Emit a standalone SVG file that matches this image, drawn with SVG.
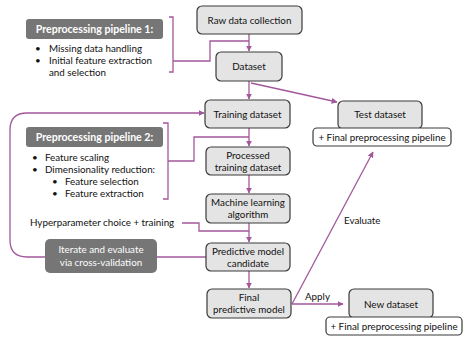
<svg xmlns="http://www.w3.org/2000/svg" width="474" height="338" viewBox="0 0 474 338">
<defs>
<marker id="ah" viewBox="0 0 10 10" refX="9" refY="5" markerWidth="6" markerHeight="6" orient="auto" markerUnits="userSpaceOnUse">
<path d="M0,0 L10,5 L0,10 z" fill="#a2579b"/>
</marker>
<style>
text{font-family:Lato,"Open Sans","Liberation Sans",sans-serif;font-size:9.8px;fill:#111}
.box{fill:#e4e4e4;stroke:#3a3a3a;stroke-width:1.2}
.wbox{fill:#fff;stroke:#3a3a3a;stroke-width:1.2}
.dark{fill:#767676;stroke:none}
.c{text-anchor:middle}
.w{fill:#fff}
.b{font-weight:bold}
.ln{fill:none;stroke:#a2579b;stroke-width:1.3}
.br{fill:none;stroke:#a2579b;stroke-width:1.3}
</style>
</defs>
<rect width="474" height="338" fill="#fff"/>
<g id="connectors">
<path class="ln" d="M249,34 V51" marker-end="url(#ah)"/>
<path class="br" d="M169,17 H173 V72 H169 M173,61 H210 V41 H249"/>
<path class="ln" d="M249,81 V99" marker-end="url(#ah)"/>
<path class="ln" d="M251,83 L337,102" marker-end="url(#ah)"/>
<path class="ln" d="M249,128 V146" marker-end="url(#ah)"/>
<path class="br" d="M163,123 H168 V199 H163 M168,161 H194 V137 H249"/>
<path class="ln" d="M249,175 V193" marker-end="url(#ah)"/>
<path class="ln" d="M182,223 H199 V231 H249"/>
<path class="ln" d="M249,223 V242" marker-end="url(#ah)"/>
<path class="ln" d="M157,257 H206"/>
<path class="ln" d="M45,257 H27 Q10,257 10,240 V130 Q10,113 27,113 H204" marker-end="url(#ah)"/>
<path class="ln" d="M249,271 V288" marker-end="url(#ah)"/>
<path class="ln" d="M292,304 L373,152" marker-end="url(#ah)"/>
<path class="ln" d="M292,304 H343" marker-end="url(#ah)"/>
</g>
<g id="raw">
<rect class="box" x="197" y="6" width="105" height="28" rx="5"/>
<text class="c" x="249.5" y="23.5">Raw data collection</text>
</g>
<g id="dataset">
<rect class="box" x="216" y="52" width="66" height="29" rx="5"/>
<text class="c" x="249" y="70">Dataset</text>
</g>
<g id="pp1">
<rect class="dark" x="26" y="19" width="137" height="20" rx="3"/>
<text class="w b c" x="94.5" y="33" style="font-size:10.6px">Preprocessing  pipeline 1:</text>
<text x="35" y="52">•</text><text x="49" y="52">Missing data handling</text>
<text x="35" y="64">•</text><text x="49" y="64">Initial feature extraction</text>
<text x="49" y="76">and selection</text>
</g>
<g id="training">
<rect class="box" x="205" y="100" width="85" height="28" rx="5"/>
<text class="c" x="247.5" y="117.5">Training dataset</text>
</g>
<g id="test">
<rect class="box" x="338" y="101" width="84" height="28" rx="5"/>
<text class="c" x="380" y="118">Test dataset</text>
<rect class="wbox" x="313" y="128" width="138" height="18" rx="4"/>
<text class="c" x="382" y="140.5">+ Final preprocessing pipeline</text>
</g>
<g id="pp2">
<rect class="dark" x="26" y="127" width="137" height="20" rx="3"/>
<text class="w b c" x="94.5" y="141" style="font-size:10.6px">Preprocessing pipeline 2:</text>
<text x="32" y="161">•</text><text x="45" y="161">Feature scaling</text>
<text x="32" y="173">•</text><text x="45" y="173">Dimensionality reduction:</text>
<text x="52" y="185">•</text><text x="65" y="185">Feature selection</text>
<text x="52" y="197">•</text><text x="65" y="197">Feature extraction</text>
</g>
<g id="processed">
<rect class="box" x="206" y="147" width="84" height="28" rx="5"/>
<text class="c" x="248" y="159">Processed</text>
<text class="c" x="248" y="171">training dataset</text>
</g>
<g id="ml">
<rect class="box" x="206" y="194" width="84" height="29" rx="5"/>
<text class="c" x="248" y="206">Machine learning</text>
<text class="c" x="248" y="218">algorithm</text>
</g>
<g id="hyper">
<text x="30" y="226">Hyperparameter choice + training</text>
</g>
<g id="iterate">
<rect class="dark" x="45" y="239" width="112" height="34" rx="5"/>
<text class="w c" x="101" y="253">Iterate and evaluate</text>
<text class="w c" x="101" y="266">via cross-validation</text>
</g>
<g id="candidate">
<rect class="box" x="206" y="243" width="84" height="28" rx="5"/>
<text class="c" x="248" y="255">Predictive model</text>
<text class="c" x="248" y="267">candidate</text>
</g>
<g id="final">
<rect class="box" x="207" y="289" width="84" height="29" rx="5"/>
<text class="c" x="249" y="301">Final</text>
<text class="c" x="249" y="313">predictive model</text>
</g>
<g id="evaluate"><text x="344" y="224">Evaluate</text></g>
<g id="apply"><text x="305" y="300">Apply</text></g>
<g id="newds">
<rect class="box" x="349" y="289" width="84" height="29" rx="5"/>
<text class="c" x="391" y="308">New dataset</text>
<rect class="wbox" x="326" y="317" width="136" height="18" rx="4"/>
<text class="c" x="394" y="329.5">+ Final preprocessing pipeline</text>
</g>
</svg>
